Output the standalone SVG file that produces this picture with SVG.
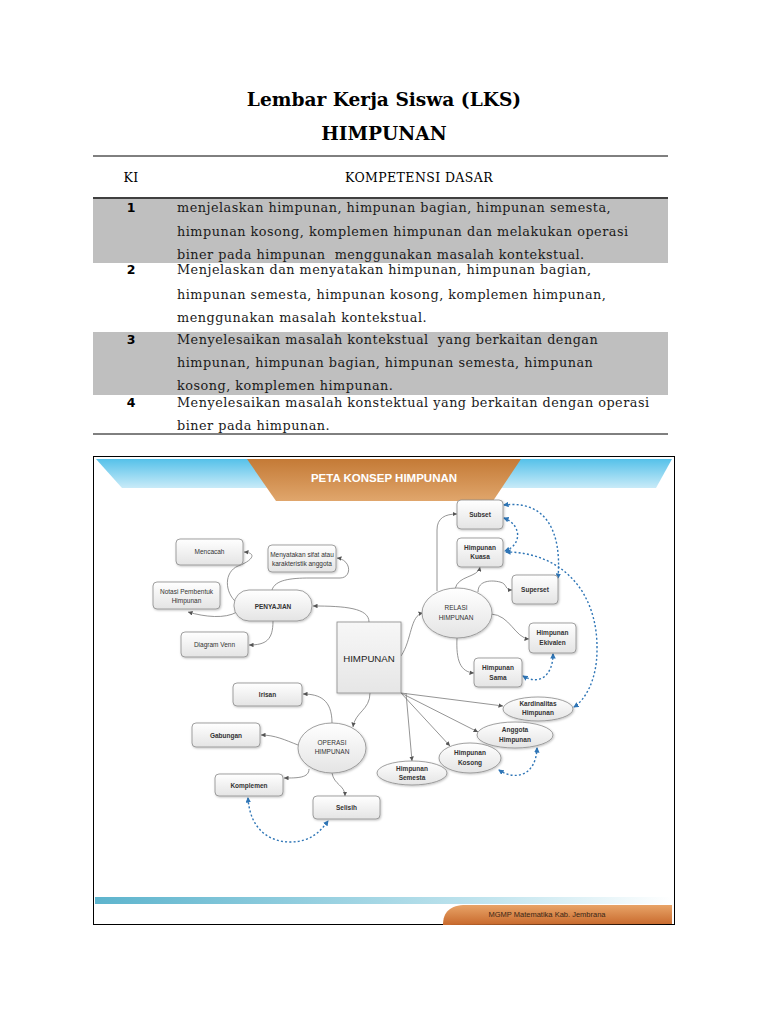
<svg xmlns="http://www.w3.org/2000/svg" width="768" height="1024" viewBox="0 0 768 1024">
<style>
.title{font-family:"DejaVu Serif","Liberation Serif",serif;font-weight:bold;font-size:18.6px;fill:#000;text-anchor:middle}
.th{font-family:"DejaVu Serif","Liberation Serif",serif;font-size:12.5px;fill:#000;letter-spacing:0.4px}
.td{font-family:"DejaVu Serif","Liberation Serif",serif;font-size:12.8px;fill:#1a1a1a;letter-spacing:0.5px}
.num{font-family:"DejaVu Sans","Liberation Sans",sans-serif;font-weight:bold;font-size:12.5px;fill:#000;text-anchor:middle}
.box{fill:url(#ng);stroke:#8a8a8a;stroke-width:0.8}
.lbl{font-family:"Liberation Sans",Arial,sans-serif;font-size:6.5px;fill:#333;text-anchor:middle}
.b{font-weight:bold}
.ln{fill:none;stroke:#7a7a7a;stroke-width:0.8;marker-end:url(#ga)}
.dot{fill:none;stroke:#2e75b6;stroke-width:1.4;stroke-dasharray:2 2.2;marker-start:url(#ba);marker-end:url(#ba)}
</style>
<defs>
<linearGradient id="ng" x1="0" y1="0" x2="0" y2="1"><stop offset="0" stop-color="#ffffff"/><stop offset="1" stop-color="#e4e4e4"/></linearGradient>
<linearGradient id="hg" x1="0" y1="0" x2="0" y2="1"><stop offset="0" stop-color="#f7f7f7"/><stop offset="1" stop-color="#e6e6e6"/></linearGradient>
<linearGradient id="blue" x1="0" y1="0" x2="0" y2="1"><stop offset="0" stop-color="#55c1ea"/><stop offset="1" stop-color="#c9ebf8"/></linearGradient>
<linearGradient id="orange" x1="0" y1="0" x2="0" y2="1"><stop offset="0" stop-color="#c47a36"/><stop offset="1" stop-color="#e0a66c"/></linearGradient>
<linearGradient id="bline" x1="0" y1="0" x2="1" y2="0"><stop offset="0" stop-color="#5db4cd"/><stop offset="0.7" stop-color="#c4e6ef"/><stop offset="1" stop-color="#ffffff"/></linearGradient>
<linearGradient id="otab" x1="0" y1="0" x2="0" y2="1"><stop offset="0" stop-color="#e8a468"/><stop offset="1" stop-color="#c8692c"/></linearGradient>
<filter id="sh" x="-10%" y="-10%" width="130%" height="140%"><feDropShadow dx="0.8" dy="1" stdDeviation="0.8" flood-color="#000" flood-opacity="0.25"/></filter>
<marker id="ga" viewBox="0 0 6 6" refX="6" refY="3" markerWidth="4.5" markerHeight="4.5" markerUnits="userSpaceOnUse" orient="auto"><path d="M0,0 L6,3 L0,6 z" fill="#555"/></marker>
<marker id="ba" viewBox="0 0 6 6" refX="5" refY="3" markerWidth="5.5" markerHeight="5.5" markerUnits="userSpaceOnUse" orient="auto-start-reverse"><path d="M0,0 L6,3 L0,6 z" fill="#2e75b6"/></marker>
</defs>
<rect width="768" height="1024" fill="#fff"/>

<g id="header">
<text class="title" x="384" y="106">Lembar Kerja Siswa (LKS)</text>
<text class="title" x="384" y="140">HIMPUNAN</text>
</g>

<g id="table">
<line x1="93" y1="156" x2="668" y2="156" stroke="#000" stroke-width="1"/>
<text class="th" x="131" y="182" text-anchor="middle">KI</text>
<text class="th" x="419" y="182" text-anchor="middle">KOMPETENSI DASAR</text>
<line x1="93" y1="198" x2="668" y2="198" stroke="#000" stroke-width="1.5"/>
<rect x="93" y="199" width="575" height="64" fill="#bfbfbf"/>
<rect x="93" y="332" width="575" height="63" fill="#bfbfbf"/>
<text class="num" x="131" y="212" font-family="DejaVu Serif,serif">1</text>
<text class="td" x="177" y="212">menjelaskan himpunan, himpunan bagian, himpunan semesta,</text>
<text class="td" x="177" y="236">himpunan kosong, komplemen himpunan dan melakukan operasi</text>
<text class="td" x="177" y="259" xml:space="preserve">biner pada himpunan  menggunakan masalah kontekstual.</text>
<text class="num" x="131" y="274">2</text>
<text class="td" x="177" y="274">Menjelaskan dan menyatakan himpunan, himpunan bagian,</text>
<text class="td" x="177" y="299">himpunan semesta, himpunan kosong, komplemen himpunan,</text>
<text class="td" x="177" y="322">menggunakan masalah kontekstual.</text>
<text class="num" x="131" y="344">3</text>
<text class="td" x="177" y="344" xml:space="preserve">Menyelesaikan masalah kontekstual  yang berkaitan dengan</text>
<text class="td" x="177" y="367">himpunan, himpunan bagian, himpunan semesta, himpunan</text>
<text class="td" x="177" y="390">kosong, komplemen himpunan.</text>
<text class="num" x="131" y="407">4</text>
<text class="td" x="177" y="407">Menyelesaikan masalah konstektual yang berkaitan dengan operasi</text>
<text class="td" x="177" y="430">biner pada himpunan.</text>
<line x1="93" y1="434" x2="668" y2="434" stroke="#000" stroke-width="1"/>
</g>

<g id="map-frame">
<rect x="93.5" y="456.5" width="581" height="468" fill="#fff" stroke="#000" stroke-width="1"/>
<polygon points="96,459 672,459 656,488 122,488" fill="url(#blue)"/>
<polygon points="247,459 521,459 493,501 276,501" fill="url(#orange)"/>
<text x="384" y="482" font-family="Liberation Sans,Arial,sans-serif" font-weight="bold" font-size="11.5" fill="#fff" text-anchor="middle">PETA KONSEP HIMPUNAN</text>
<rect x="95" y="897" width="577" height="7" fill="url(#bline)"/>
<path d="M443,925 C443,912 450,905 466,905 L672,905 L672,924 Z" fill="url(#otab)"/>
<text x="547" y="917" font-family="Liberation Sans,Arial,sans-serif" font-size="7.5" fill="#3a2616" text-anchor="middle">MGMP Matematika Kab. Jembrana</text>
</g>

<g id="connectors">
<path class="ln" d="M369,622 C369,608 345,606 313,606"/>
<path class="ln" d="M237,603 C224,592 224,572 238,566 C252,561 258,553 244,552"/>
<path class="ln" d="M272,590 C275,580 290,578 310,578 L340,578 C352,578 352,560 337,558"/>
<path class="ln" d="M237,612 C225,619 205,617 188,612"/>
<path class="ln" d="M273,621 C273,640 266,645 249,645"/>
<path class="ln" d="M401,656 C412,640 410,615 423,613"/>
<path class="ln" d="M437,591 L437,530 C437,518 445,514 457,514"/>
<path class="ln" d="M455,589 C458,575 478,578 480,567"/>
<path class="ln" d="M478,592 C478,580 492,580 500,582 C508,584 504,590 512,590"/>
<path class="ln" d="M491,614 C510,615 515,638 529,639"/>
<path class="ln" d="M457,638 C456,660 460,672 474,673"/>
<path class="ln" d="M401,693 L503,706"/>
<path class="ln" d="M401,693 L478,732"/>
<path class="ln" d="M401,693 L450,746"/>
<path class="ln" d="M406,693 L412,761"/>
<path class="ln" d="M370,693 C370,710 355,712 353,727"/>
<path class="ln" d="M332,723 C332,700 320,694 303,694"/>
<path class="ln" d="M298,745 C285,740 275,735 261,735"/>
<path class="ln" d="M309,769 C309,778 298,778 284,778"/>
<path class="ln" d="M332,773 C334,785 345,785 345,796"/>
<path class="dot" d="M248,798 C250,830 270,842 290,842 C310,842 320,832 328,821"/>
<path class="dot" d="M499,770 C515,781 536,776 537,748"/>
<path class="dot" d="M523,676 C540,686 553,675 553,654"/>
<path class="dot" d="M504,505 C545,500 562,530 558,578"/>
<path class="dot" d="M504,518 C522,525 522,545 505,551"/>
<path class="dot" d="M506,552 C560,552 598,590 597,650 C597,680 585,700 574,707"/>
</g>

<g id="n-himpunan"><rect x="337" y="622" width="64" height="71" fill="url(#hg)" stroke="#8a8a8a" stroke-width="0.8" filter="url(#sh)"/><text x="369" y="661.5" font-family="Liberation Sans,Arial,sans-serif" font-size="9.7" fill="#222" text-anchor="middle">HIMPUNAN</text></g>

<g id="n-mencacah"><rect class="box" x="176" y="539" width="67" height="26" rx="4" filter="url(#sh)"/><text class="lbl" x="209.5" y="554">Mencacah</text></g>
<g id="n-menyatakan"><rect class="box" x="268" y="545" width="68" height="27" rx="4" stroke="#555" filter="url(#sh)"/><text class="lbl" x="302" y="556.5">Menyatakan sifat atau</text><text class="lbl" x="302" y="565.5">karakteristik anggota</text></g>
<g id="n-notasi"><rect class="box" x="153" y="582" width="67" height="27" rx="4" filter="url(#sh)"/><text class="lbl" x="186.5" y="593.5">Notasi Pembentuk</text><text class="lbl" x="186.5" y="602.5">Himpunan</text></g>
<g id="n-penyajian"><rect class="box" x="234" y="590" width="78" height="31" rx="15" filter="url(#sh)"/><text class="lbl b" x="273" y="608.5" font-size="7">PENYAJIAN</text></g>
<g id="n-venn"><rect class="box" x="181" y="632" width="67" height="25" rx="4" filter="url(#sh)"/><text class="lbl" x="214.5" y="647">Diagram Venn</text></g>

<g id="n-relasi"><ellipse class="box" cx="457" cy="613" rx="35" ry="25" filter="url(#sh)"/><text class="lbl" x="456" y="610">RELASI</text><text class="lbl" x="456" y="619.5">HIMPUNAN</text></g>
<g id="n-subset"><rect class="box" x="457" y="500" width="46" height="29" rx="4" filter="url(#sh)"/><text class="lbl b" x="480" y="516.5">Subset</text></g>
<g id="n-kuasa"><rect class="box" x="457" y="538" width="46" height="29" rx="4" filter="url(#sh)"/><text class="lbl b" x="480" y="550">Himpunan</text><text class="lbl b" x="480" y="559">Kuasa</text></g>
<g id="n-superset"><rect class="box" x="512" y="575" width="46" height="29" rx="4" filter="url(#sh)"/><text class="lbl b" x="535" y="592">Superset</text></g>
<g id="n-ekivalen"><rect class="box" x="529" y="623" width="47" height="30" rx="4" filter="url(#sh)"/><text class="lbl b" x="552.5" y="635">Himpunan</text><text class="lbl b" x="552.5" y="644.5">Ekivalen</text></g>
<g id="n-sama"><rect class="box" x="474" y="658" width="48" height="29" rx="4" filter="url(#sh)"/><text class="lbl b" x="498" y="670">Himpunan</text><text class="lbl b" x="498" y="679.5">Sama</text></g>

<g id="n-kardinalitas"><ellipse class="box" cx="538" cy="709" rx="35" ry="12" filter="url(#sh)"/><text class="lbl b" x="538" y="705.5">Kardinalitas</text><text class="lbl b" x="538" y="714.5">Himpunan</text></g>
<g id="n-anggota"><ellipse class="box" cx="515" cy="735" rx="38" ry="13" filter="url(#sh)"/><text class="lbl b" x="515" y="732">Anggota</text><text class="lbl b" x="515" y="742">Himpunan</text></g>
<g id="n-kosong"><ellipse class="box" cx="470" cy="758" rx="31" ry="15" filter="url(#sh)"/><text class="lbl b" x="470" y="755">Himpunan</text><text class="lbl b" x="470" y="765">Kosong</text></g>
<g id="n-semesta"><ellipse class="box" cx="412" cy="773" rx="35" ry="12" filter="url(#sh)"/><text class="lbl b" x="412" y="770.5">Himpunan</text><text class="lbl b" x="412" y="780">Semesta</text></g>

<g id="n-operasi"><ellipse class="box" cx="332" cy="748" rx="34" ry="25" filter="url(#sh)"/><text class="lbl" x="332" y="744.5">OPERASI</text><text class="lbl" x="332" y="754">HIMPUNAN</text></g>
<g id="n-irisan"><rect class="box" x="233" y="683" width="69" height="23" rx="4" filter="url(#sh)"/><text class="lbl b" x="267.5" y="696.5">Irisan</text></g>
<g id="n-gabungan"><rect class="box" x="192" y="723" width="68" height="24" rx="4" filter="url(#sh)"/><text class="lbl b" x="226" y="737.5">Gabungan</text></g>
<g id="n-komplemen"><rect class="box" x="215" y="774" width="68" height="22" rx="4" filter="url(#sh)"/><text class="lbl b" x="249" y="787.5">Komplemen</text></g>
<g id="n-selisih"><rect class="box" x="313" y="796" width="67" height="23" rx="4" filter="url(#sh)"/><text class="lbl b" x="346.5" y="809.5">Selisih</text></g>
</svg>
